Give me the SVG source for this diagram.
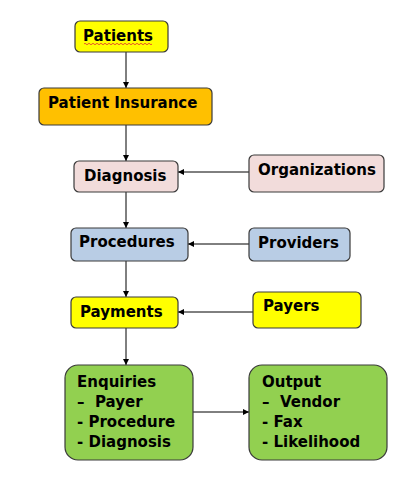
<svg xmlns="http://www.w3.org/2000/svg" width="407" height="485" viewBox="0 0 407 485">
<style>
.box{stroke:#3a3a3a;stroke-width:1.2}
.t{font-family:"DejaVu Sans",Verdana,sans-serif;font-weight:bold;font-size:15px;fill:#000;white-space:pre}
.c{stroke:#000;stroke-width:1;fill:none;marker-end:url(#ah)}
</style>
<defs>
<marker id="ah" viewBox="0 0 6 6" refX="6" refY="3" markerWidth="6" markerHeight="6" markerUnits="userSpaceOnUse" orient="auto">
<path d="M0,0 L6,3 L0,6 z" fill="#000"/>
</marker>
</defs>
<rect width="407" height="485" fill="#fff"/>
<g id="connectors">
<line class="c" x1="126" y1="52" x2="126" y2="88"/>
<line class="c" x1="126" y1="125" x2="126" y2="161"/>
<line class="c" x1="126" y1="192" x2="126" y2="228"/>
<line class="c" x1="126" y1="261" x2="126" y2="297"/>
<line class="c" x1="126" y1="328" x2="126" y2="365"/>
<line class="c" x1="249" y1="172" x2="178" y2="172"/>
<line class="c" x1="249" y1="244" x2="188" y2="244"/>
<line class="c" x1="253" y1="312" x2="178" y2="312"/>
<line class="c" x1="193" y1="412" x2="249" y2="412"/>
</g>
<g id="patients">
<rect class="box" x="75" y="21" width="93" height="31" rx="5" fill="#FFFF00"/>
<text class="t" x="83" y="41">Patients</text>
<path d="M84,44 q1,-1.5 2,0 t2,0 t2,0 t2,0 t2,0 t2,0 t2,0 t2,0 t2,0 t2,0 t2,0 t2,0 t2,0 t2,0 t2,0 t2,0 t2,0 t2,0 t2,0 t2,0 t2,0 t2,0 t2,0 t2,0 t2,0 t2,0 t2,0 t2,0 t2,0 t2,0 t2,0 t2,0 t2,0 t2,0" fill="none" stroke="#e03030" stroke-width="0.8"/>
</g>
<g id="patient-insurance">
<rect class="box" x="39" y="88" width="173" height="37" rx="5" fill="#FFC000"/>
<text class="t" x="48" y="108">Patient Insurance</text>
</g>
<g id="diagnosis">
<rect class="box" x="74" y="161" width="104" height="31" rx="5" fill="#F2DCDB"/>
<text class="t" x="84" y="181">Diagnosis</text>
</g>
<g id="organizations">
<rect class="box" x="249" y="155" width="135" height="37" rx="5" fill="#F2DCDB"/>
<text class="t" x="258" y="175">Organizations</text>
</g>
<g id="procedures">
<rect class="box" x="71" y="228" width="117" height="33" rx="5" fill="#B9CDE5"/>
<text class="t" x="79" y="247">Procedures</text>
</g>
<g id="providers">
<rect class="box" x="249" y="228" width="101" height="33" rx="5" fill="#B9CDE5"/>
<text class="t" x="258" y="248">Providers</text>
</g>
<g id="payments">
<rect class="box" x="71" y="297" width="107" height="31" rx="5" fill="#FFFF00"/>
<text class="t" x="80" y="317">Payments</text>
</g>
<g id="payers">
<rect class="box" x="253" y="292" width="108" height="36" rx="5" fill="#FFFF00"/>
<text class="t" x="263" y="311">Payers</text>
</g>
<g id="enquiries">
<rect class="box" x="65" y="365" width="128" height="95" rx="13" fill="#92D050"/>
<text class="t" x="77" y="387">Enquiries</text>
<text class="t" x="77" y="407">–  Payer</text>
<text class="t" x="77" y="427">- Procedure</text>
<text class="t" x="77" y="447">- Diagnosis</text>
</g>
<g id="output">
<rect class="box" x="249" y="365" width="138" height="95" rx="13" fill="#92D050"/>
<text class="t" x="262" y="387">Output</text>
<text class="t" x="262" y="407">–  Vendor</text>
<text class="t" x="262" y="427">- Fax</text>
<text class="t" x="262" y="447">- Likelihood</text>
</g>
</svg>
